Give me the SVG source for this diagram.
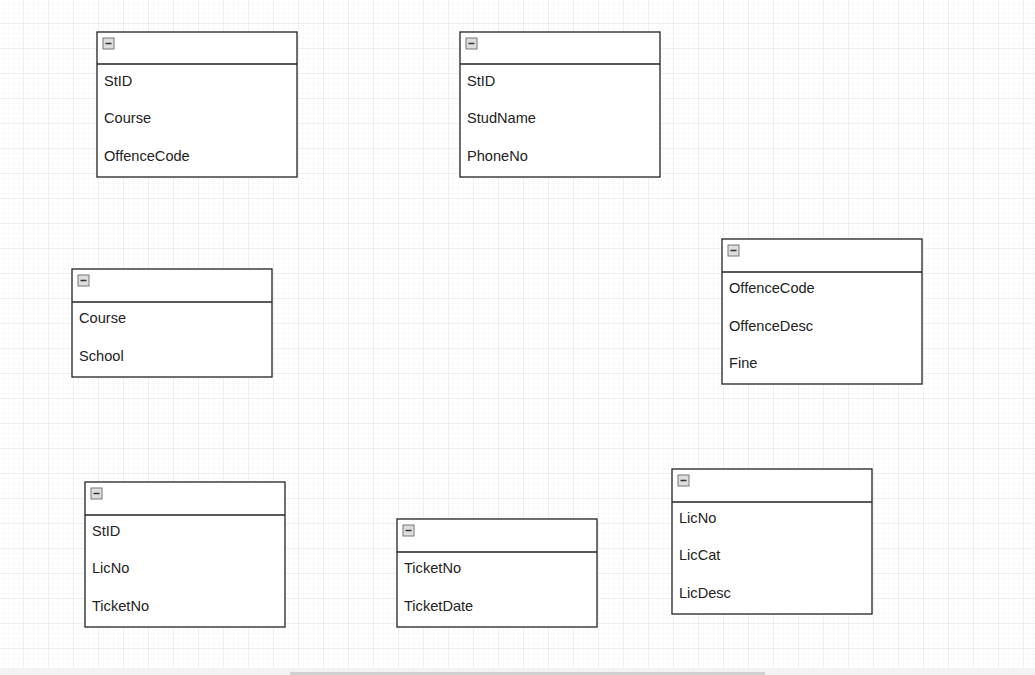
<svg xmlns="http://www.w3.org/2000/svg" width="1035" height="675" viewBox="0 0 1035 675">
<defs>
<pattern id="mn" width="5" height="5" patternUnits="userSpaceOnUse"><path d="M5 0V5H0" fill="none" stroke="#f4f4f4" stroke-width="1"/></pattern>
<pattern id="mj" x="-1" y="-1" width="25" height="25" patternUnits="userSpaceOnUse"><rect width="25" height="25" fill="url(#mn)"/><path d="M25 0V25H0" fill="none" stroke="#e4e4e4" stroke-width="1"/></pattern>
<g id="ic"><rect x="0" y="0" width="11" height="11" fill="#ddd" stroke="#777" stroke-width="1"/><line x1="2.5" y1="5.5" x2="8.5" y2="5.5" stroke="#333" stroke-width="1.5"/></g>
</defs>
<style>
.b{fill:#fff;stroke:#222;stroke-width:1.3}
.l{stroke:#222;stroke-width:1.3}
text{font-family:"Liberation Sans",Arial,sans-serif;font-size:14.6px;fill:#222;dominant-baseline:middle}
</style>
<rect width="1035" height="675" fill="#fff"/>
<rect width="1035" height="668" fill="url(#mj)"/>
<rect y="668" width="1035" height="7" fill="#f2f4f4"/>
<rect x="290" y="672" width="475" height="3" fill="#d0d0d0"/>
<g id="connectors"/>
<g id="t1"><rect class="b" x="97" y="32" width="200" height="145"/><line class="l" x1="97" y1="64" x2="297" y2="64"/><use href="#ic" x="103" y="38"/><text x="104" y="82">StID</text><text x="104" y="119">Course</text><text x="104" y="157">OffenceCode</text></g>
<g id="t2"><rect class="b" x="460" y="32" width="200" height="145"/><line class="l" x1="460" y1="64" x2="660" y2="64"/><use href="#ic" x="466" y="38"/><text x="467" y="82">StID</text><text x="467" y="119">StudName</text><text x="467" y="157">PhoneNo</text></g>
<g id="t3"><rect class="b" x="72" y="269" width="200" height="108"/><line class="l" x1="72" y1="302" x2="272" y2="302"/><use href="#ic" x="78" y="275"/><text x="79" y="319">Course</text><text x="79" y="357">School</text></g>
<g id="t4"><rect class="b" x="722" y="239" width="200" height="145"/><line class="l" x1="722" y1="272" x2="922" y2="272"/><use href="#ic" x="728" y="245"/><text x="729" y="289">OffenceCode</text><text x="729" y="327">OffenceDesc</text><text x="729" y="364">Fine</text></g>
<g id="t5"><rect class="b" x="85" y="482" width="200" height="145"/><line class="l" x1="85" y1="515" x2="285" y2="515"/><use href="#ic" x="91" y="488"/><text x="92" y="532">StID</text><text x="92" y="569">LicNo</text><text x="92" y="607">TicketNo</text></g>
<g id="t6"><rect class="b" x="397" y="519" width="200" height="108"/><line class="l" x1="397" y1="552" x2="597" y2="552"/><use href="#ic" x="403" y="525"/><text x="404" y="569">TicketNo</text><text x="404" y="607">TicketDate</text></g>
<g id="t7"><rect class="b" x="672" y="469" width="200" height="145"/><line class="l" x1="672" y1="502" x2="872" y2="502"/><use href="#ic" x="678" y="475"/><text x="679" y="519">LicNo</text><text x="679" y="556">LicCat</text><text x="679" y="594">LicDesc</text></g>
</svg>
